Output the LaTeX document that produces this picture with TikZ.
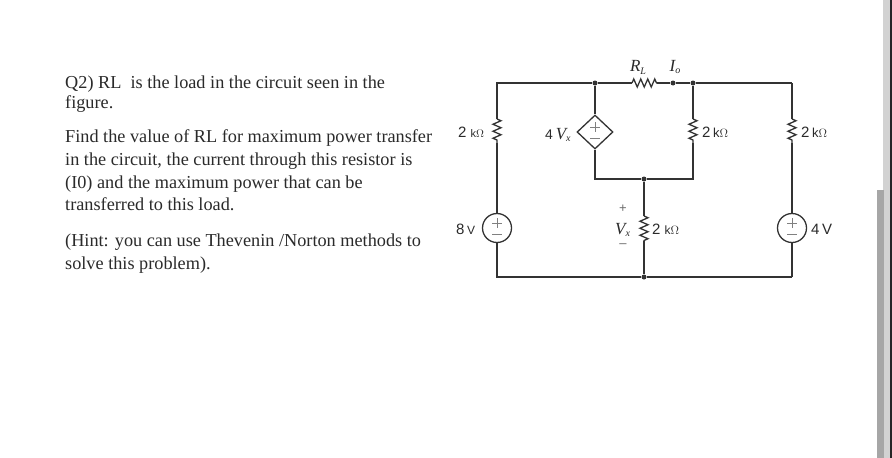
\documentclass[tikz,border=0pt]{standalone}
\usepackage{fontspec}
\setmainfont{Liberation Serif}
\newfontfamily\lblfont{Liberation Sans}
\usetikzlibrary{shapes.geometric,decorations.pathmorphing}
\definecolor{ink}{HTML}{2A2A2A}
\definecolor{wirec}{HTML}{333333}
\tikzset{
  txt/.style={anchor=base west,inner sep=0pt,text=ink,font=\fontsize{18.25}{20}\selectfont},
  lbl/.style={inner sep=0pt,text=ink,font=\lblfont\fontsize{15}{16}\selectfont},
  ital/.style={inner sep=0pt,text=ink,font=\itshape\fontsize{17}{18}\selectfont},
  wire/.style={draw=wirec,line width=2pt},
  thinw/.style={draw=wirec,line width=1.6pt},
  res/.style={draw=wirec,line width=1.3pt,decorate,decoration={zigzag,amplitude=4pt,segment length=7pt}},
  src/.style={circle,draw=wirec,line width=1.3pt,fill=white,minimum size=29pt,inner sep=0pt},
  dep/.style={diamond,draw=wirec,line width=1.3pt,fill=white,minimum width=36pt,minimum height=34pt,inner sep=0pt},
  dot/.style={circle,fill=wirec,minimum size=5pt,inner sep=0pt},
  pm/.style={inner sep=0pt,text=gray!85!black,font=\lblfont\fontsize{13}{13}\selectfont}
}
\newcommand{\plusminus}[2]{%
  \draw[gray,line width=1pt] (#1-5,#2-5) -- (#1+5,#2-5) (#1,#2-10) -- (#1,#2) (#1-5,#2+6) -- (#1+5,#2+6);}
\begin{document}
\begin{tikzpicture}[x=1pt,y=-1pt]
\useasboundingbox (0,0) rectangle (892,458);
\fill[white] (0,0) rectangle (892,458);
% scrollbar
\fill[gray!35] (883,0) rectangle (890,458);
\fill[gray!70] (877,190) rectangle (884,458);
\fill[black!85] (890,0) rectangle (892,458);
% question text
\node[txt] (t1) at (65,88) {Q2) RL\ \ is the load in the circuit seen in the};
\node[txt] (t2) at (65,108) {figure.};
\node[txt] (t3) at (65,142) {Find the value of RL for maximum power transfer};
\node[txt] (t4) at (65,165) {in the circuit, the current through this resistor is};
\node[txt] (t5) at (65,188) {(I0) and the maximum power that can be};
\node[txt] (t6) at (65,210) {transferred to this load.};
\node[txt] (t7) at (65,246) {(Hint: you can use Thevenin /Norton methods to};
\node[txt] (t8) at (65,269) {solve this problem).};
% corners and junctions
\coordinate (tl) at (497,83);
\coordinate (bl) at (497,277);
\node[dot] (jt) at (595,83) {};
\node[dot] (jio) at (673,83) {};
\node[dot] (jr) at (693,83) {};
\coordinate (tr) at (792,83);
\coordinate (br) at (792,277);
\coordinate (ml) at (595,179);
\node[dot] (jm) at (644,179) {};
\coordinate (mr) at (693,179);
\node[dot] (jb) at (644,277) {};
% resistor ends
\coordinate (r1a) at (497,119); \coordinate (r1b) at (497,143);
\coordinate (rla) at (632,83); \coordinate (rlb) at (657,83);
\coordinate (r2a) at (693,119); \coordinate (r2b) at (693,143);
\coordinate (r3a) at (792,119); \coordinate (r3b) at (792,143);
\coordinate (r4a) at (644,216); \coordinate (r4b) at (644,241);
% sources
\node[src] (s8) at (497,228) {};
\node[src] (s4) at (792,228) {};
\node[dep] (d4) at (595,132) {};
% wires
\path[wire] (r1a) -- (tl) -- (jt) -- (rla);
\path[wire] (rlb) -- (jio) -- (jr) -- (tr);
\path[thinw] (tr) -- (r3a);
\path[thinw] (r3b) -- (s4);
\path[thinw] (s4) -- (br);
\path[wire] (br) -- (jb) -- (bl) -- (s8);
\path[thinw] (s8) -- (r1b);
\path[wire] (jt) -- (d4) (d4) -- (ml) -- (jm) -- (mr) -- (r2b);
\path[wire] (r2a) -- (jr);
\path[wire] (jm) -- (r4a) (r4b) -- (jb);
% resistors
\path[res] (r1a) -- (r1b);
\path[res] (rla) -- (rlb);
\path[res] (r2a) -- (r2b);
\path[res] (r3a) -- (r3b);
\path[res] (r4a) -- (r4b);
% source signs
\plusminus{497}{228}
\plusminus{792}{228}
\plusminus{595}{132}
% labels
\node[lbl,anchor=base west] (l1) at (458,137) {2 {\fontsize{11}{11}\selectfont k$\Omega$}};
\node[ital,anchor=base west] (l2) at (545,139) {{\upshape\lblfont\fontsize{14}{14}\selectfont 4}\,\textit{V}\raisebox{-2pt}{\fontsize{10}{10}\selectfont\textit{x}}};
\node[ital] (l3) at (638,67) {\textit{R}\raisebox{-3pt}{\fontsize{10}{10}\selectfont\textit{L}}};
\node[ital] (l4) at (675,67) {\textit{I}\raisebox{-2pt}{\fontsize{10}{10}\selectfont\textit{o}}};
\node[lbl,anchor=base west] (l5) at (702,137) {2\,{\fontsize{13}{13}\selectfont k$\Omega$}};
\node[lbl,anchor=base west] (l6) at (801,137) {2\,{\fontsize{13}{13}\selectfont k$\Omega$}};
\node[lbl,anchor=base west] (l7) at (456,234) {8\,{\fontsize{12}{12}\selectfont V}};
\node[lbl,anchor=base west] (l8) at (811,234) {4\,V};
\node[lbl,anchor=base west] (l9) at (652,234) {2 {\fontsize{12}{12}\selectfont k$\Omega$}};
\node[ital,anchor=base west] (l10) at (615,234) {\textit{V}\raisebox{-2pt}{\fontsize{10}{10}\selectfont\textit{x}}};
\node[pm] (l11) at (623,209) {+};
\node[pm] (l12) at (623,246) {–};
\end{tikzpicture}
\end{document}
